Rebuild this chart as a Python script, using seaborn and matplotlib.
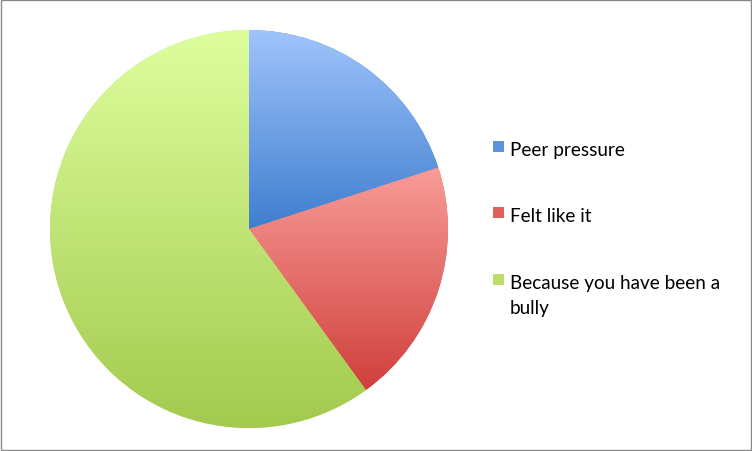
import matplotlib.pyplot as plt
import numpy as np
import seaborn as sns
from matplotlib.colors import LinearSegmentedColormap
from matplotlib.patches import Rectangle

labels = ['Peer pressure', 'Felt like it', 'Because you have been a\nbully']
values = [20, 20, 60]
top_colors = ['#a0c4fc', '#f99c98', '#defe9e']
bottom_colors = ['#3f7ecf', '#cf3f3c', '#a3ca4e']
mid_colors = ['#5d93dc', '#e0605c', '#bcdc6c']

sns.set_theme(style='white')
plt.rcParams['font.family'] = ['Lato', 'DejaVu Sans']

fig = plt.figure(figsize=(7.52, 4.52), dpi=100)
fig.patch.set_facecolor('white')

# pie axes, Kreis von x=50..448, y=31..429 (Pixel)
ax = fig.add_axes([50 / 752, 23 / 452, 398 / 752, 398 / 452])
wedges, _ = ax.pie(values, colors=mid_colors, startangle=90, counterclock=False,
                   wedgeprops=dict(linewidth=0))
ax.set_aspect('equal')
ax.axis('off')

# Verlauf von hell (oben) nach dunkel (unten) pro Stück
grad = np.linspace(0, 1, 256).reshape(-1, 1)
for w, c_top, c_bot in zip(wedges, top_colors, bottom_colors):
    ext = w.get_path().get_extents()
    cmap = LinearSegmentedColormap.from_list('g', [c_top, c_bot])
    im = ax.imshow(grad, cmap=cmap, aspect='auto', origin='upper',
                   extent=[ext.x0, ext.x1, ext.y0, ext.y1], zorder=w.get_zorder() + 0.1)
    im.set_clip_path(w)
ax.set_xlim(-1, 1)
ax.set_ylim(-1, 1)

# Legende (baseline = letzte Zeile)
sq_tops = [142, 208, 275]
baselines = [156, 222, 314]
for lab, col, sq, bl in zip(labels, mid_colors, sq_tops, baselines):
    fig.patches.append(Rectangle((493 / 752, 1 - (sq + 11) / 452), 11 / 752, 11 / 452,
                                 transform=fig.transFigure, facecolor=col, edgecolor='none'))
    fig.text(510 / 752, 1 - bl / 452, lab, fontsize=13.6, color='black',
             va='baseline', ha='left', linespacing=1.6)

# Rahmen
fig.patches.append(Rectangle((0.5 / 752, 1.0 / 452), 750.5 / 752, 450.5 / 452, transform=fig.transFigure,
                             facecolor='none', edgecolor='#8a8a8a', linewidth=1))

fig.savefig('out.png', dpi=100)
